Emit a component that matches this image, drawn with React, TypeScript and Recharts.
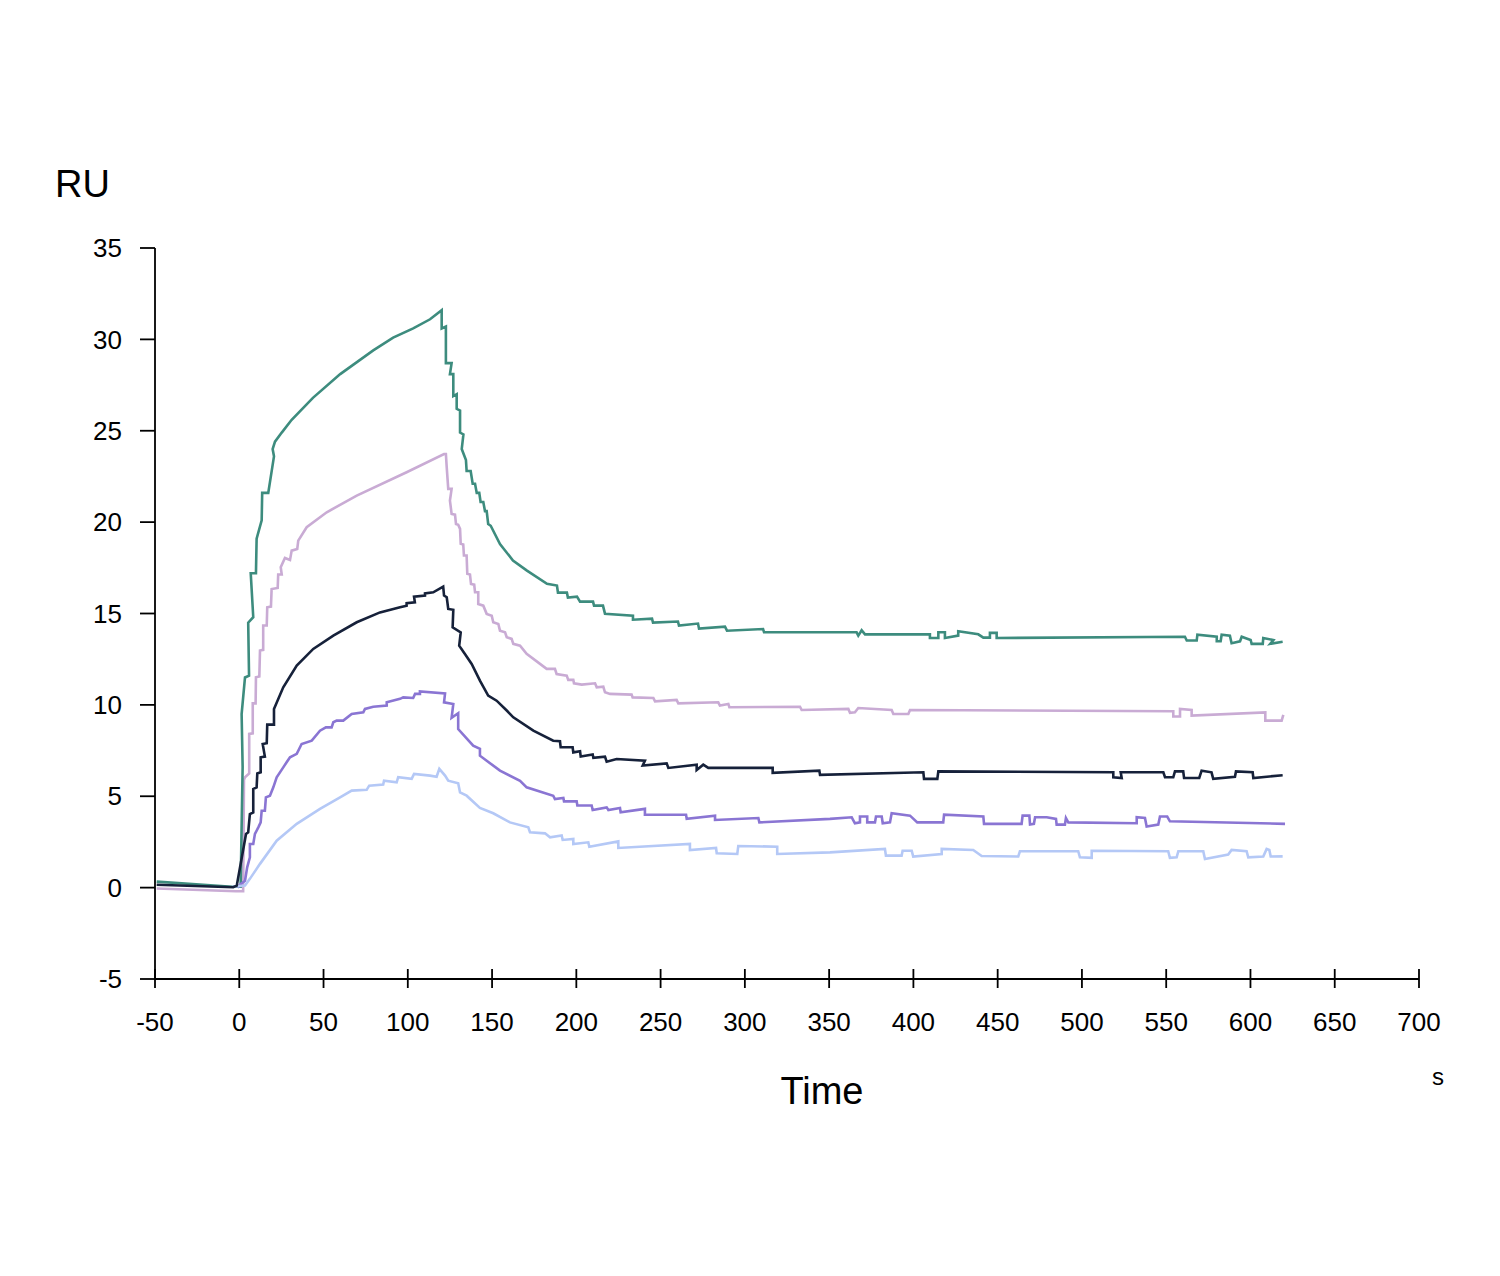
import React from 'react';
import { LineChart, Line, XAxis, YAxis, Label } from 'recharts';

const xTicks = [-50, 0, 50, 100, 150, 200, 250, 300, 350, 400, 450, 500, 550, 600, 650, 700];
const yTicks = [-5, 0, 5, 10, 15, 20, 25, 30, 35];

const yTitle = 'RU';
const xTitle = 'Time';
const xUnit = 's';

const tealSeries: [number, number][] = [
  [-49, 0.33], [-4.3, 0.05], [0.8, 0.05], [2.0, 6.6], [1.4, 9.5], [3.4, 11.5], [5.8, 11.6], [5.3, 14.5], [8.3, 14.8],
  [6.8, 17.2], [9.9, 17.2], [10.3, 19.1], [13.3, 20.1], [13.6, 21.6], [17.2, 21.6], [20.6, 23.6], [19.8, 24.0], [21.2, 24.4],
  [25.2, 24.9], [31.1, 25.6], [43.7, 26.8], [59.9, 28.1], [79.5, 29.4], [91.3, 30.1], [103.2, 30.6], [113.2, 31.1],
  [120.1, 31.6], [120.1, 30.6], [122.6, 30.7], [122.6, 28.7], [126.0, 28.7], [125.0, 28.1], [127.0, 28.1], [127.0, 26.9],
  [129.0, 27.0], [129.0, 26.2], [131.0, 26.1], [131.0, 24.9], [133.0, 24.8], [132.0, 24.0], [134.5, 23.4], [134.9, 22.8],
  [137.3, 22.8], [138.5, 22.1], [139.9, 22.1], [140.9, 21.6], [142.4, 21.6], [143.2, 21.1], [144.8, 21.1], [145.8, 20.6],
  [146.8, 20.6], [147.7, 19.9], [149.2, 19.8], [154.7, 18.8], [162.4, 17.9], [170.7, 17.35], [182.6, 16.63], [188.5, 16.53],
  [189.1, 16.14], [194.4, 16.14], [195.0, 15.87], [200.4, 15.92], [202.2, 15.65], [209.9, 15.65], [210.5, 15.43],
  [215.8, 15.43], [217.0, 14.99], [233.6, 14.88], [233.6, 14.66], [244.9, 14.72], [245.5, 14.5], [260.3, 14.56],
  [260.9, 14.34], [272.2, 14.45], [272.8, 14.17], [288.2, 14.28], [289.4, 14.06], [310.8, 14.15], [311.4, 13.97],
  [366.3, 13.97], [367.3, 13.79], [369.3, 14.08], [371.3, 13.86], [409.8, 13.86], [409.8, 13.66], [414.8, 13.66],
  [414.8, 13.97], [418.7, 13.97], [418.7, 13.66], [426.6, 13.79], [426.6, 14.03], [438.5, 13.86], [441.5, 13.68],
  [445.4, 13.68], [445.4, 13.94], [449.4, 13.94], [449.4, 13.66], [561.1, 13.73], [562.2, 13.52], [568.1, 13.52],
  [568.5, 13.84], [580.0, 13.73], [580.0, 13.48], [582.3, 13.48], [582.9, 13.84], [587.8, 13.79], [588.8, 13.37],
  [593.8, 13.48], [594.8, 13.73], [600.1, 13.55], [600.7, 13.34], [607.3, 13.34], [607.6, 13.66], [613.6, 13.55],
  [611.7, 13.34], [619.1, 13.45],
];

const pinkSeries: [number, number][] = [
  [-49, -0.05], [-2, -0.2], [2.3, -0.2], [2.8, 5.9], [3.4, 6.04], [5.9, 6.25], [5.9, 8.41], [8.0, 8.44], [8.0, 10.08],
  [9.7, 10.08], [9.9, 11.51], [11.9, 11.55], [12.3, 12.97], [14.2, 13.01], [14.2, 14.34], [16.3, 14.34], [16.6, 15.34],
  [18.8, 15.38], [19.2, 16.34], [22.8, 16.4], [23.1, 17.13], [25.2, 17.13], [24.6, 17.53], [27.1, 18.04], [30.1, 17.93],
  [31.1, 18.44], [34.4, 18.53], [35.0, 18.99], [40.0, 19.72], [51.9, 20.54], [69.7, 21.45], [99.3, 22.73], [121.5, 23.73],
  [122.6, 23.73], [123.1, 23.0], [124.0, 21.82], [126.0, 21.82], [125.0, 21.18], [126.0, 20.45], [128.0, 20.41],
  [128.6, 19.9], [129.9, 19.86], [131.0, 19.63], [131.4, 18.81], [132.9, 18.77], [133.3, 18.17], [134.9, 18.17],
  [135.3, 17.17], [136.9, 17.13], [137.5, 16.62], [139.4, 16.58], [139.9, 16.16], [141.8, 16.16], [141.8, 15.52],
  [144.8, 15.43], [146.8, 14.98], [149.8, 14.88], [150.7, 14.52], [153.7, 14.43], [154.7, 14.06], [157.7, 13.97],
  [158.7, 13.7], [161.6, 13.61], [162.6, 13.34], [166.6, 13.24], [170.5, 12.79], [182.4, 11.97], [187.3, 11.97],
  [188.3, 11.69], [194.3, 11.6], [195.2, 11.37], [198.2, 11.37], [198.6, 11.18], [203.2, 11.11], [211.1, 11.18],
  [212.1, 10.96], [216.0, 11.0], [217.0, 10.69], [220.0, 10.6], [232.8, 10.56], [233.4, 10.41], [245.7, 10.38],
  [246.7, 10.19], [259.5, 10.27], [260.5, 10.08], [284.2, 10.14], [285.2, 9.96], [290.2, 10.05], [290.8, 9.87],
  [332.7, 9.9], [333.7, 9.72], [361.4, 9.78], [362.4, 9.56], [365.3, 9.59], [367.3, 9.83], [387.1, 9.72], [388.1, 9.5],
  [397.0, 9.5], [398.0, 9.72], [554.2, 9.65], [554.2, 9.36], [558.2, 9.36], [558.2, 9.78], [565.1, 9.72], [565.1, 9.41],
  [608.8, 9.59], [608.8, 9.14], [618.5, 9.14], [619.5, 9.45],
];

const darkSeries: [number, number][] = [
  [-49, 0.16], [-3.6, 0.02], [-1.5, 0.11], [4.0, 2.94], [5.3, 3.03], [6.3, 4.03], [8.3, 4.12], [8.3, 5.4], [10.3, 5.49],
  [10.7, 6.25], [12.7, 6.31], [12.7, 7.13], [15.2, 7.17], [13.9, 7.86], [16.3, 7.9], [16.6, 8.92], [20.6, 8.92],
  [20.6, 9.78], [26.1, 10.96], [34.1, 12.15], [43.9, 13.06], [55.8, 13.79], [69.7, 14.52], [83.5, 15.06], [95.4, 15.34],
  [99.3, 15.43], [99.3, 15.56], [104.2, 15.61], [103.7, 15.92], [110.2, 15.98], [110.2, 16.1], [115.1, 16.16],
  [121.0, 16.47], [121.5, 15.98], [123.1, 15.89], [124.0, 15.25], [127.0, 15.2], [126.6, 14.24], [131.4, 13.97],
  [130.5, 13.24], [133.9, 12.79], [137.9, 12.24], [142.8, 11.33], [147.7, 10.51], [152.7, 10.23], [158.7, 9.69],
  [162.6, 9.32], [174.5, 8.59], [186.3, 8.04], [190.3, 8.01], [190.7, 7.68], [197.8, 7.68], [198.2, 7.4], [202.2, 7.46],
  [202.6, 7.17], [209.7, 7.28], [210.1, 7.1], [217.0, 7.17], [218.0, 6.89], [223.9, 7.04], [240.7, 6.95], [239.4, 6.68],
  [253.6, 6.8], [254.6, 6.55], [271.4, 6.73], [271.4, 6.44], [275.3, 6.73], [278.3, 6.55], [316.5, 6.55], [316.5, 6.28],
  [344.2, 6.4], [344.6, 6.17], [405.9, 6.31], [406.3, 5.95], [414.2, 5.95], [414.8, 6.36], [518.6, 6.31], [518.6, 6.04],
  [523.6, 6.0], [523.0, 6.31], [548.3, 6.31], [549.3, 6.04], [554.2, 6.04], [555.2, 6.36], [560.1, 6.36], [560.6, 6.0],
  [569.6, 6.0], [571.0, 6.4], [576.9, 6.31], [577.9, 5.95], [590.8, 6.07], [591.4, 6.36], [601.3, 6.31], [601.7, 6.0],
  [619.1, 6.15],
];

const purpleSeries: [number, number][] = [
  [-1.0, 0.0], [0.4, 0.16], [3.4, 0.38], [4.7, 1.11], [6.3, 1.66], [6.3, 2.39], [8.3, 2.39], [9.3, 2.94], [11.3, 3.3],
  [12.7, 3.57], [13.3, 4.21], [15.2, 4.21], [15.8, 4.94], [18.2, 5.03], [20.2, 5.49], [22.2, 6.04], [26.1, 6.58],
  [28.1, 6.86], [30.1, 7.13], [34.1, 7.32], [37.0, 7.86], [43.0, 8.04], [47.9, 8.59], [51.4, 8.77], [54.8, 8.77],
  [55.8, 9.05], [57.8, 9.14], [61.7, 9.14], [66.7, 9.5], [73.6, 9.59], [74.6, 9.78], [79.5, 9.9], [87.5, 9.96],
  [87.5, 10.14], [95.4, 10.33], [97.3, 10.41], [103.2, 10.38], [104.3, 10.6], [107.2, 10.6], [107.2, 10.74],
  [122.1, 10.63], [121.5, 10.14], [127.0, 10.05], [126.0, 9.29], [129.9, 9.54], [129.9, 8.68], [138.8, 7.77],
  [142.8, 7.59], [142.8, 7.22], [154.7, 6.4], [166.6, 5.85], [170.5, 5.49], [186.3, 5.03], [187.3, 4.85], [192.3, 4.91],
  [192.7, 4.72], [200.2, 4.72], [200.6, 4.49], [209.1, 4.49], [209.7, 4.25], [218.0, 4.39], [219.0, 4.25], [225.9, 4.36],
  [226.3, 4.12], [240.7, 4.31], [240.7, 3.99], [265.1, 3.99], [265.5, 3.76], [282.3, 3.94], [282.3, 3.7], [308.0, 3.81],
  [308.6, 3.57], [350.5, 3.76], [363.4, 3.85], [365.3, 3.52], [368.3, 3.57], [368.3, 3.89], [372.6, 3.89], [372.6, 3.57],
  [377.2, 3.57], [377.8, 3.89], [381.2, 3.89], [381.8, 3.52], [386.1, 3.57], [387.1, 4.07], [398.0, 3.94], [402.3, 3.57],
  [417.7, 3.57], [418.2, 3.99], [441.5, 3.89], [441.9, 3.49], [464.2, 3.49], [464.8, 3.94], [468.8, 3.94], [469.2, 3.45],
  [471.5, 3.49], [472.2, 3.85], [479.1, 3.85], [484.6, 3.76], [485.0, 3.45], [489.9, 3.45], [490.5, 3.81], [491.9, 3.57],
  [532.5, 3.52], [532.5, 3.85], [537.4, 3.81], [538.4, 3.34], [545.3, 3.45], [546.3, 3.89], [550.6, 3.89], [552.2, 3.63],
  [620.5, 3.49],
];

const lightBlueSeries: [number, number][] = [
  [-4.3, 0.05], [3.4, 0.11], [6.3, 0.48], [12.3, 1.3], [22.2, 2.57], [34.1, 3.49], [47.9, 4.31], [59.8, 4.94],
  [66.7, 5.31], [75.6, 5.35], [77.1, 5.58], [85.4, 5.64], [85.9, 5.85], [93.4, 5.76], [94.3, 6.04], [102.3, 5.95],
  [103.7, 6.22], [113.2, 6.13], [117.1, 6.07], [118.7, 6.5], [122.1, 6.13], [124.0, 5.85], [129.9, 5.71], [131.0, 5.21],
  [134.9, 5.03], [142.8, 4.36], [150.7, 4.07], [160.6, 3.57], [171.5, 3.3], [172.5, 3.03], [181.4, 2.97], [184.4, 2.75],
  [191.3, 2.85], [191.9, 2.61], [198.2, 2.66], [198.2, 2.39], [207.1, 2.48], [207.7, 2.24], [224.9, 2.53], [224.9, 2.17],
  [267.4, 2.39], [267.4, 2.06], [282.9, 2.17], [283.3, 1.88], [295.5, 1.84], [296.1, 2.28], [319.2, 2.24], [319.2, 1.84],
  [350.5, 1.93], [383.1, 2.12], [383.7, 1.75], [393.0, 1.75], [393.6, 2.02], [399.0, 2.02], [399.9, 1.7], [416.8, 1.84],
  [416.8, 2.12], [435.5, 2.06], [440.5, 1.73], [462.2, 1.7], [463.2, 1.99], [497.8, 1.99], [498.8, 1.66], [505.8, 1.63],
  [505.8, 2.02], [551.2, 1.99], [552.2, 1.63], [556.2, 1.66], [557.2, 1.99], [572.0, 1.99], [573.0, 1.57], [586.8, 1.81],
  [588.8, 2.06], [597.7, 1.99], [598.7, 1.66], [607.6, 1.7], [609.6, 2.12], [611.2, 2.06], [612.0, 1.7], [619.1, 1.71],
];

const FONT = '"Liberation Sans", Arial, Helvetica, sans-serif';

const toRows = (pts: [number, number][]) => pts.map(([t, v]) => ({ t, v }));

const series = [
  { name: 'pink', data: toRows(pinkSeries), color: '#c9abd4' },
  { name: 'teal', data: toRows(tealSeries), color: '#3d8c7e' },
  { name: 'purple', data: toRows(purpleSeries), color: '#8a75d3' },
  { name: 'lightBlue', data: toRows(lightBlueSeries), color: '#b4c8f6' },
  { name: 'dark', data: toRows(darkSeries), color: '#16213a' },
];

const X_TICK_SIZE = 10;
const X_TICK_MARGIN = 24;

const XTick = (props: any) => {
  const { x, y, payload } = props;
  const axisY = y - X_TICK_SIZE - X_TICK_MARGIN;
  return (
    <g>
      <line x1={x} x2={x} y1={axisY - 10} y2={axisY + 9} stroke="#000" strokeWidth={1.8} />
      <text x={x} y={y} dy="0.71em" textAnchor="middle" fontSize={26} fill="#000" fontFamily={FONT}>
        {payload.value}
      </text>
    </g>
  );
};

export default function App() {
  return (
    <div style={{ width: 1484, height: 1260 }}>
      <LineChart
        width={1484}
        height={1260}
        margin={{ top: 240, right: 73, bottom: 229, left: 67 }}
        style={{ fontFamily: FONT }}
      >
        <XAxis
          type="number"
          dataKey="t"
          domain={[-50, 700]}
          ticks={xTicks}
          allowDataOverflow
          height={60}
          stroke="#000"
          strokeWidth={1.8}
          tickLine={false}
          tickSize={X_TICK_SIZE}
          tickMargin={X_TICK_MARGIN}
          tick={<XTick />}
          interval={0}
        >
          <Label
            content={(p: any) => {
              const vb = p.viewBox;
              return (
                <g>
                  <text x={vb.x + vb.width / 2 + 35} y={vb.y + 125} textAnchor="middle" fontSize={38} fill="#000" fontFamily={FONT}>
                    {xTitle}
                  </text>
                  <text x={vb.x + vb.width + 19} y={vb.y + 106} textAnchor="middle" fontSize={24} fill="#000" fontFamily={FONT}>
                    {xUnit}
                  </text>
                </g>
              );
            }}
          />
        </XAxis>
        <YAxis
          type="number"
          domain={[-5, 35]}
          ticks={yTicks}
          allowDataOverflow
          width={80}
          stroke="#000"
          strokeWidth={1.8}
          tickSize={15}
          tickMargin={18}
          tick={{ fontSize: 26, fill: '#000', fontFamily: FONT }}
          interval={0}
        >
          <Label
            content={(p: any) => {
              const vb = p.viewBox;
              return (
                <text x={vb.x - 20} y={vb.y - 51} textAnchor="start" fontSize={38} fill="#000" fontFamily={FONT}>
                  {yTitle}
                </text>
              );
            }}
          />
        </YAxis>
        {series.map((s) => (
          <Line
            key={s.name}
            data={s.data}
            dataKey="v"
            type="linear"
            stroke={s.color}
            strokeWidth={2.6}
            dot={false}
            activeDot={false}
            isAnimationActive={false}
            strokeLinejoin="miter"
          />
        ))}
      </LineChart>
    </div>
  );
}
